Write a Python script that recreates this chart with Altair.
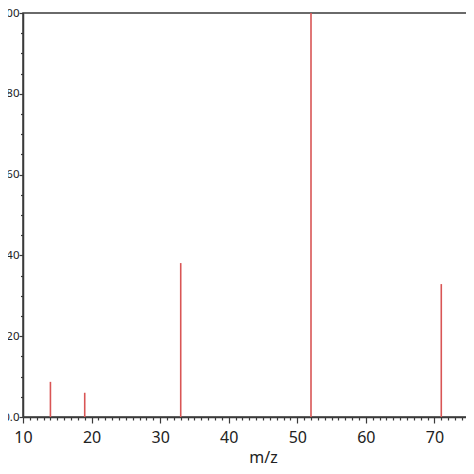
import altair as alt
import pandas as pd

mz = [14, 19, 33, 52, 71]
intensity = [8.7, 6.0, 38.1, 100, 32.9]

x_ticks = list(range(10, 81))
y_ticks = list(range(0, 101, 5))

df = pd.DataFrame({"mz": mz, "intensity": intensity})

FONT = "Noto Sans"
AXIS_COLOR = "#3a3a3a"

chart = alt.Chart(df).mark_rule(color="#d95555", strokeWidth=1.6).encode(
    x=alt.X(
        "mz:Q",
        scale=alt.Scale(domain=[10, 80], nice=False, zero=False),
        axis=alt.Axis(
            title="m/z",
            values=x_ticks,
            labelExpr="datum.value % 10 === 0 ? datum.label : ''",
            labelOverlap=False,
            labelFlush=False,
            tickSize={"condition": {"test": "datum.value % 10 === 0", "value": 6}, "value": 3},
            labelPadding=6,
            titlePadding=4,
            labelFontSize=16,
            labelFont=FONT,
            grid=False,
        ),
    ),
    y=alt.Y(
        "intensity:Q",
        scale=alt.Scale(domain=[0, 100], nice=False),
        axis=alt.Axis(
            title=None,
            values=y_ticks,
            labelExpr="datum.value === 0 ? '0.0' : (datum.value % 20 === 0 ? datum.label : '')",
            labelOverlap=False,
            labelFlush=False,
            tickSize={"condition": {"test": "datum.value % 20 === 0", "value": 4}, "value": 2.5},
            labelPadding=0,
            labelFontSize=11.5,
            labelFont=FONT,
            grid=False,
        ),
    ),
    y2=alt.datum(0),
).properties(
    width=480,
    height=404,
    autosize=alt.AutoSizeParams(type="none"),
    padding={"left": 15.0, "top": 5, "right": -37.0, "bottom": 49},
).configure_view(
    stroke=AXIS_COLOR, strokeWidth=1.5
).configure_axis(
    domainColor=AXIS_COLOR,
    domainWidth=1.5,
    tickColor=AXIS_COLOR,
    tickWidth=1.2,
    labelColor="#222222",
    titleFont=FONT,
    titleFontSize=16,
    titleFontWeight="normal",
    titleColor="#222222",
)

chart.save("out.html", embed_options={"renderer": "svg", "actions": False})
